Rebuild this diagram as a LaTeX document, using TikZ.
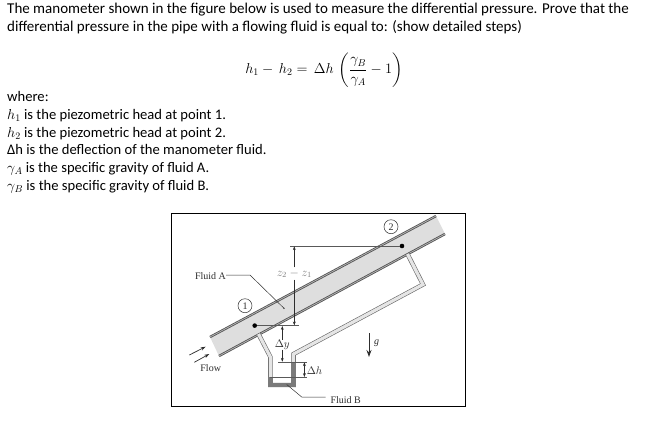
\documentclass[tikz,border=0pt]{standalone}
\usepackage{fontspec}
\usepackage{amsmath}
\setmainfont{Carlito}
\newfontfamily\figfont{Liberation Serif}
\usetikzlibrary{arrows.meta}
\definecolor{pipefill}{gray}{0.87}
\definecolor{walldark}{gray}{0.33}
\definecolor{wallmid}{gray}{0.72}
\definecolor{tubefill}{gray}{0.90}
\definecolor{tubeline}{gray}{0.40}
\definecolor{fluidb}{gray}{0.48}
\definecolor{inkc}{gray}{0.18}
\definecolor{guidec}{gray}{0.35}
\tikzset{
  body/.style={anchor=base west,inner sep=0pt,font=\fontsize{15}{17}\selectfont,text=black},
  listitem/.style={anchor=base west,inner sep=0pt,font=\fontsize{14.6}{17}\selectfont,text=black},
  figlabel/.style={inner sep=0pt,font=\figfont\fontsize{10}{11}\selectfont,text=inkc},
  guide/.style={draw=guidec,line width=0.4pt},
  dim/.style={draw=inkc,line width=0.4pt,{Stealth[length=3.8pt,width=2.8pt]}-{Stealth[length=3.8pt,width=2.8pt]}},
  oneway/.style={draw=inkc,line width=0.4pt,-{Stealth[length=3.8pt,width=2.8pt]}},
  leader/.style={draw=inkc,line width=0.5pt},
  flowarrow/.style={draw=inkc,line width=0.7pt,-{Stealth[length=5pt,width=3.4pt]}},
  pipewall/.style={draw=walldark,line width=2.4pt,line cap=butt},
  pipecore/.style={draw=wallmid,line width=0.7pt,line cap=butt},
  tubeout/.style={draw=tubeline,line width=4.4pt,line join=miter},
  tubein/.style={draw=tubefill,line width=3.2pt,line join=miter},
  point/.style={circle,fill=black,inner sep=0pt,minimum size=4.6pt},
  station/.style={circle,draw=inkc,line width=0.5pt,inner sep=0pt,minimum size=14pt,font=\figfont\fontsize{10}{11}\selectfont,text=inkc},
}
\begin{document}
\begin{tikzpicture}[x=1pt,y=-1pt]
\useasboundingbox (0,0) rectangle (648,424);
% text
\node[body] (t1) at (7,13) {The manometer shown in the figure below is used to measure the differential pressure. Prove that the};
\node[body] (t2) at (7,31) {differential pressure in the pipe with a flowing fluid is equal to: (show detailed steps)};
\node[inner sep=0pt,font=\fontsize{14}{16}\selectfont] (eq) at (324,70) {$h_1-\,h_2=\,\Delta h\,\left(\dfrac{\gamma_B}{\gamma_A}-1\right)$};
\node[listitem] (w0) at (7,101) {where:};
\node[listitem] (w1) at (7,119) {$h_1$ is the piezometric head at point 1.};
\node[listitem] (w2) at (7,137) {$h_2$ is the piezometric head at point 2.};
\node[listitem] (w3) at (7,154) {Δh is the deflection of the manometer fluid.};
\node[listitem] (w4) at (7,172) {$\gamma_A$ is the specific gravity of fluid A.};
\node[listitem] (w5) at (7,190) {$\gamma_B$ is the specific gravity of fluid B.};
% figure frame
\draw[black,line width=0.9pt] (171,213) rectangle (465.5,406);
% pipe
\fill[pipefill] (210,337) -- (436,216) -- (445,234) -- (219,356) -- cycle;
\draw[pipewall] (210,337) -- (436,216);
\draw[pipewall] (219,356) -- (445,234);
\draw[pipecore] (210,337) -- (436,216);
\draw[pipecore] (219,356) -- (445,234);
% manometer tube
\coordinate (ta) at (258.5,334);
\coordinate (tb) at (270.4,357);
\coordinate (tc) at (270.4,385);
\coordinate (td) at (293.6,385);
\coordinate (te) at (293.6,354);
\coordinate (tf) at (423,284.5);
\coordinate (tg) at (407.5,254);
\draw[tubeout] (ta) -- (tb) -- (tc) -- (td) -- (te) -- (tf) -- (tg);
\draw[tubein] (ta) -- (tb) -- (tc) -- (td) -- (te) -- (tf) -- (tg);
\draw[fluidb,line width=4.4pt,line join=miter] (270.4,377.3) -- (tc) -- (td) -- (293.6,362);
% points and stations
\node[point] (p1) at (254.7,325.6) {};
\node[point] (p2) at (402,246) {};
\node[station] (s1) at (245,305.7) {1};
\node[station] (s2) at (391,226.7) {2};
% guides
\draw[guide] (p2) -- (290,246);
\draw[guide] (p1) -- (299,325.6);
\draw[guide] (278.3,362) -- (306.7,362);
\draw[guide] (270,377.3) -- (306.7,377.3);
% dimensions
\coordinate (za) at (294.3,246.3);
\coordinate (zb) at (294.3,325.3);
\node[figlabel,text=black!50,fill=white,inner xsep=0.5pt,inner ysep=1.5pt,font=\figfont\fontsize{12}{13}\selectfont] (zl) at (294.3,273.5) {$z_2-z_1$};
\draw[oneway] (zl) -- (za);
\draw[oneway] (zl) -- (zb);
\node[figlabel,font=\figfont\fontsize{11}{12}\selectfont] (dy) at (282.3,344.5) {$\Delta y$};
\coordinate (dya) at (282.3,326);
\coordinate (dyb) at (282.3,361.7);
\draw[oneway] (dy) -- (dya);
\draw[oneway] (dy) -- (dyb);
\coordinate (dha) at (304.4,362.3);
\coordinate (dhb) at (304.4,377);
\draw[dim] (dha) -- (dhb);
\node[figlabel,font=\figfont\fontsize{11}{12}\selectfont] (dh) at (314.5,370.7) {$\Delta h$};
% labels
\node[figlabel] (fa) at (210.5,275.7) {Fluid A};
\coordinate (fa1) at (250,275);
\coordinate (fa2) at (284,308.3);
\draw[leader] (fa.east |- fa1) -- (fa1) -- (fa2);
\fill[inkc] (fa2) circle (0.7pt);
\node[figlabel] (fb) at (345.7,399.7) {Fluid B};
\coordinate (fb0) at (325.7,397);
\coordinate (fb1) at (301.7,397);
\coordinate (fb2) at (286.7,384.5);
\draw[leader] (fb0) -- (fb1) -- (fb2);
\node[figlabel] (fl) at (210.7,368.5) {Flow};
\coordinate (fl1s) at (189.3,355);
\coordinate (fl1e) at (205.7,346.7);
\coordinate (fl2s) at (194.3,362.3);
\coordinate (fl2e) at (209.3,354);
\draw[flowarrow] (fl1s) -- (fl1e);
\draw[flowarrow] (fl2s) -- (fl2e);
\coordinate (ga) at (369,333.3);
\coordinate (gb) at (369,357);
\draw[draw=inkc,line width=1pt,-{Stealth[length=7pt,width=5pt]}] (ga) -- (gb);
\node[figlabel,font=\figfont\itshape\fontsize{10}{11}\selectfont] (gl) at (376.7,343.3) {g};
\end{tikzpicture}
\end{document}
